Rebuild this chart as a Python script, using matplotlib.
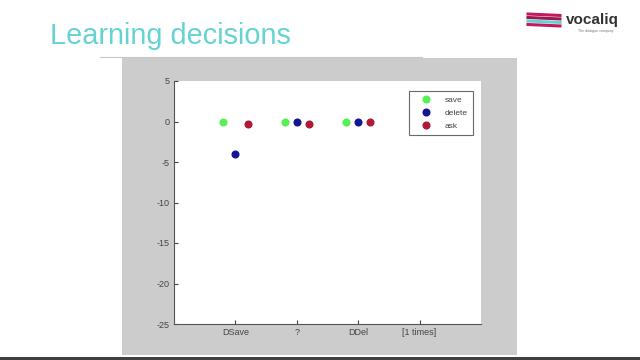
import numpy as np
import matplotlib
matplotlib.use("Agg")
import matplotlib.pyplot as plt
from matplotlib.patches import Rectangle
from matplotlib.lines import Line2D

plt.rcParams['font.family'] = ['Liberation Sans', 'DejaVu Sans']
plt.rcParams['axes.unicode_minus'] = False

# data
categories = ['DSave', '?', 'DDel', '[1 times]']
series_names = ['save', 'delete', 'ask']
save_vals = [0.0, 0.0, 0.0]
delete_vals = [-4.0, 0.0, 0.0]
ask_vals = [-0.3, -0.3, 0.0]
y_ticks = [5, 0, -5, -10, -15, -20, -25]

colors = ['#55f055', '#141496', '#b01838']
offsets = [-0.2, 0.0, 0.2]

fig = plt.figure(figsize=(6.4, 3.6), dpi=100)
fig.patch.set_facecolor('white')

# slide decorations
fig.text(50/640, 1-36/360, 'Learning decisions', color='#66d3d3', fontsize=20.8,
         va='center', ha='left')
fig.add_artist(Line2D([100/640, 422/640], [1-57/360, 1-57/360], color='#c8c8c8', lw=0.8))
for i, c in enumerate(['#c21a5a', '#9a1a50', '#62d2d2', '#c21a5a']):
    yy = 1 - (14 + i*3.5)/360
    fig.add_artist(Line2D([528/640, 560/640], [yy, yy - 0.004], color=c, lw=2.2))
fig.text(566/640, 1-20/360, 'vocaliq', color='#333333', fontsize=11, fontweight='bold',
         va='center', ha='left')
fig.text(578/640, 1-31/360, 'The dialogue company', color='#777777', fontsize=2.5,
         va='center', ha='left')
fig.add_artist(Rectangle((0, 0), 1, 3/360, transform=fig.transFigure,
                         facecolor='#404040', edgecolor='none'))

# grey matlab figure panel, behind the axes
fig.add_artist(Rectangle((122/640, 1-355/360), 395/640, 297/360, transform=fig.transFigure,
                         facecolor='#cccccc', edgecolor='none', zorder=-5))

ax = fig.add_axes([174/640, 1-324/360, 307/640, 243/360])
ax.set_zorder(2)
ax.set_facecolor('white')
x = np.arange(1, len(categories) + 1)
for name, vals, col, off in zip(series_names, [save_vals, delete_vals, ask_vals], colors, offsets):
    xs = x[:len(vals)] + off
    ax.plot(xs, vals, 'o', color=col, markersize=4.8, label=name)

ax.set_xlim(0, 5)
ax.set_ylim(-25, 5)
ax.set_xticks(x)
ax.set_xticklabels(categories)
ax.set_yticks(y_ticks)
ax.tick_params(direction='in', length=3, width=0.8, labelsize=6.5, colors='#444444',
               labelcolor='#444444', pad=3)
for s in ['top', 'right']:
    ax.spines[s].set_visible(False)
for s in ['left', 'bottom']:
    ax.spines[s].set_color('#555555')
    ax.spines[s].set_linewidth(0.8)

leg = ax.legend(loc='upper right', bbox_to_anchor=(0.987, 0.975), fontsize=6,
                frameon=True, fancybox=False, handletextpad=0.9, labelspacing=0.6,
                borderpad=0.6, handlelength=2.8)
leg.get_frame().set_edgecolor('#444444')
leg.get_frame().set_linewidth(0.8)
for t in leg.get_texts():
    t.set_color('#444444')

fig.savefig('out.png', dpi=100)
